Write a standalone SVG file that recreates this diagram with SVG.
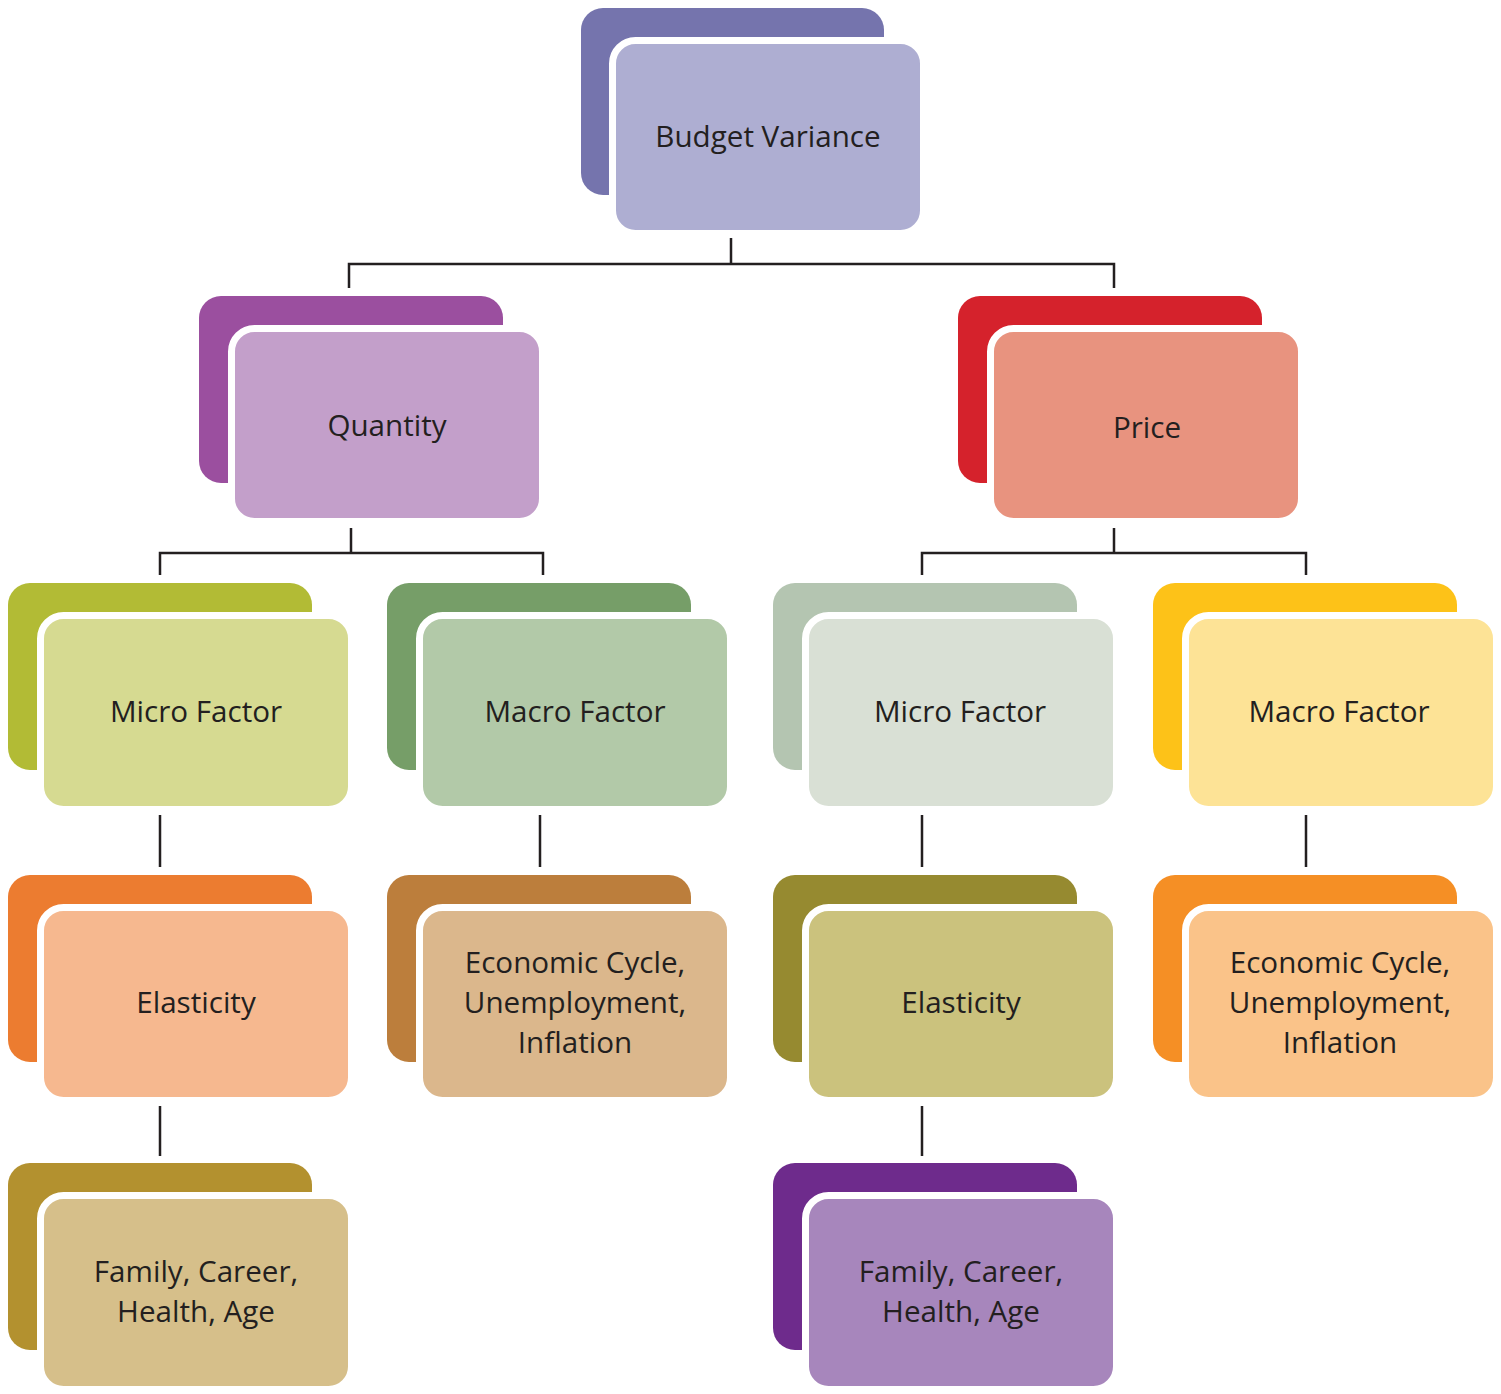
<svg xmlns="http://www.w3.org/2000/svg" width="1501" height="1394" viewBox="0 0 1501 1394">
<style>
.bk{stroke:none}
.fr{stroke:#ffffff;stroke-width:7}
.t{font-family:"Open Sans","Liberation Sans",sans-serif;font-size:29.6px;fill:#231f20;text-anchor:middle}
.c{stroke:#231f20;stroke-width:2.5;fill:none}
</style>
<rect width="1501" height="1394" fill="#ffffff"/>
<g id="connectors">
<path class="c" d="M731 238V264M349 288V264H1114V288"/>
<path class="c" d="M351 528V553M160 575V553H543V575"/>
<path class="c" d="M1114 528V553M922 575V553H1306V575"/>
<path class="c" d="M160 815V867M540 815V867M922 815V867M1306 815V867"/>
<path class="c" d="M160 1106V1156M922 1106V1156"/>
</g>
<g id="n-budget">
<rect class="bk" x="581" y="8" width="303" height="187" rx="22" fill="#7574ad"/>
<rect class="fr" x="612.5" y="40.5" width="311" height="193" rx="23" fill="#aeaed2"/>
<text class="t" x="768" y="147">Budget Variance</text>
</g>
<g id="n-quantity">
<rect class="bk" x="199" y="296" width="304" height="187" rx="22" fill="#9b4f9f"/>
<rect class="fr" x="231.5" y="328.5" width="311" height="193" rx="23" fill="#c39fca"/>
<text class="t" x="387" y="436">Quantity</text>
</g>
<g id="n-price">
<rect class="bk" x="958" y="296" width="304" height="187" rx="22" fill="#d5222c"/>
<rect class="fr" x="990.5" y="328.5" width="311" height="193" rx="23" fill="#e8937f"/>
<text class="t" x="1147" y="438">Price</text>
</g>
<g id="n-micro-q">
<rect class="bk" x="8" y="583" width="304" height="187" rx="22" fill="#b2bb35"/>
<rect class="fr" x="40.5" y="615.5" width="311" height="194" rx="23" fill="#d6da91"/>
<text class="t" x="196" y="722">Micro Factor</text>
</g>
<g id="n-macro-q">
<rect class="bk" x="387" y="583" width="304" height="187" rx="22" fill="#769e68"/>
<rect class="fr" x="419.5" y="615.5" width="311" height="194" rx="23" fill="#b2c9a8"/>
<text class="t" x="575" y="722">Macro Factor</text>
</g>
<g id="n-micro-p">
<rect class="bk" x="773" y="583" width="304" height="187" rx="22" fill="#b4c5b1"/>
<rect class="fr" x="805.5" y="615.5" width="311" height="194" rx="23" fill="#d9e0d5"/>
<text class="t" x="960" y="722">Micro Factor</text>
</g>
<g id="n-macro-p">
<rect class="bk" x="1153" y="583" width="304" height="187" rx="22" fill="#fdc218"/>
<rect class="fr" x="1185.5" y="615.5" width="311" height="194" rx="23" fill="#fde396"/>
<text class="t" x="1339" y="722">Macro Factor</text>
</g>
<g id="n-elast-q">
<rect class="bk" x="8" y="875" width="304" height="187" rx="22" fill="#ec7c30"/>
<rect class="fr" x="40.5" y="907.5" width="311" height="193" rx="23" fill="#f6b88f"/>
<text class="t" x="196" y="1013">Elasticity</text>
</g>
<g id="n-econ-q">
<rect class="bk" x="387" y="875" width="304" height="187" rx="22" fill="#bc7e3c"/>
<rect class="fr" x="419.5" y="907.5" width="311" height="193" rx="23" fill="#dbb78c"/>
<text class="t" x="575" y="973">Economic Cycle,</text>
<text class="t" x="575" y="1013">Unemployment,</text>
<text class="t" x="575" y="1053">Inflation</text>
</g>
<g id="n-elast-p">
<rect class="bk" x="773" y="875" width="304" height="187" rx="22" fill="#968a30"/>
<rect class="fr" x="805.5" y="907.5" width="311" height="193" rx="23" fill="#cbc27d"/>
<text class="t" x="961" y="1013">Elasticity</text>
</g>
<g id="n-econ-p">
<rect class="bk" x="1153" y="875" width="304" height="187" rx="22" fill="#f58f25"/>
<rect class="fr" x="1185.5" y="907.5" width="311" height="193" rx="23" fill="#fac389"/>
<text class="t" x="1340" y="973">Economic Cycle,</text>
<text class="t" x="1340" y="1013">Unemployment,</text>
<text class="t" x="1340" y="1053">Inflation</text>
</g>
<g id="n-family-q">
<rect class="bk" x="8" y="1163" width="304" height="187" rx="22" fill="#b3912f"/>
<rect class="fr" x="40.5" y="1195.5" width="311" height="194" rx="23" fill="#d6bf8a"/>
<text class="t" x="196" y="1282">Family, Career,</text>
<text class="t" x="196" y="1322">Health, Age</text>
</g>
<g id="n-family-p">
<rect class="bk" x="773" y="1163" width="304" height="187" rx="22" fill="#6e2b8c"/>
<rect class="fr" x="805.5" y="1195.5" width="311" height="194" rx="23" fill="#a786bc"/>
<text class="t" x="961" y="1282">Family, Career,</text>
<text class="t" x="961" y="1322">Health, Age</text>
</g>
</svg>
